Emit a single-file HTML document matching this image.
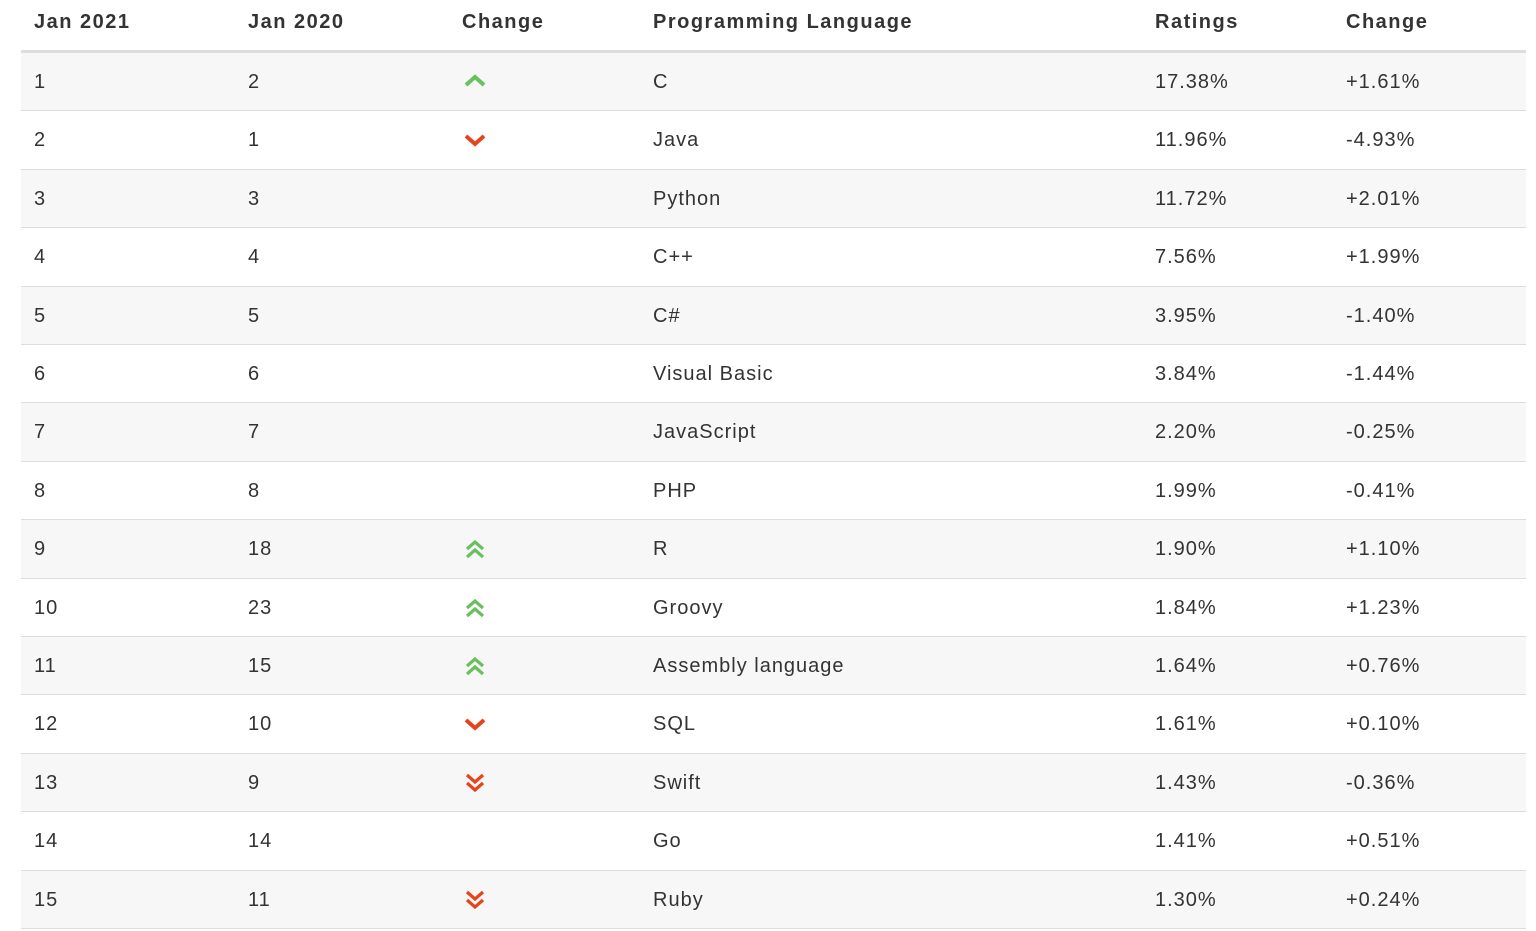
<!DOCTYPE html>
<html><head><meta charset="utf-8"><style>
body{margin:0;width:1536px;height:931px;background:#fff;font-family:"Liberation Sans",Arial,sans-serif;color:#333;position:relative;overflow:hidden}
.h{position:absolute;top:8px;font-weight:bold;font-size:20px;line-height:28px;letter-spacing:1.5px}
.r{position:absolute;left:21px;width:1505px;height:58px;border-bottom:1px solid #ddd;box-sizing:content-box}
.r.o{background:#f7f7f7}
.c{position:absolute;top:15px;font-size:20px;line-height:28px;letter-spacing:1px}
svg{position:absolute;left:422px;top:18px}
</style></head><body>
<div class="h" style="left:34px">Jan 2021</div>
<div class="h" style="left:248px">Jan 2020</div>
<div class="h" style="left:462px">Change</div>
<div class="h" style="left:653px">Programming Language</div>
<div class="h" style="left:1155px">Ratings</div>
<div class="h" style="left:1346px">Change</div>
<div style="position:absolute;left:21px;top:50px;width:1505px;height:3px;background:#ddd"></div>
<div id="t"></div>
<script>
const d=[[1,2,'u','C','17.38%','+1.61%'],[2,1,'d','Java','11.96%','-4.93%'],[3,3,'','Python','11.72%','+2.01%'],[4,4,'','C++','7.56%','+1.99%'],[5,5,'','C#','3.95%','-1.40%'],[6,6,'','Visual Basic','3.84%','-1.44%'],[7,7,'','JavaScript','2.20%','-0.25%'],[8,8,'','PHP','1.99%','-0.41%'],[9,18,'uu','R','1.90%','+1.10%'],[10,23,'uu','Groovy','1.84%','+1.23%'],[11,15,'uu','Assembly language','1.64%','+0.76%'],[12,10,'d','SQL','1.61%','+0.10%'],[13,9,'dd','Swift','1.43%','-0.36%'],[14,14,'','Go','1.41%','+0.51%'],[15,11,'dd','Ruby','1.30%','+0.24%']];
const ic={u:'<polyline points="23,14 32,6 41,14" stroke="#6abf5e" stroke-width="4" fill="none"/>',
d:'<polyline points="23,7 32,15 41,7" stroke="#e5441c" stroke-width="4" fill="none"/>',
uu:'<polyline points="24,11 32,4 40,11" stroke="#6abf5e" stroke-width="3.2" fill="none"/><polyline points="24,19 32,12 40,19" stroke="#6abf5e" stroke-width="3.2" fill="none"/>',
dd:'<polyline points="24,3 32,10 40,3" stroke="#e5441c" stroke-width="3.2" fill="none"/><polyline points="24,11 32,18 40,11" stroke="#e5441c" stroke-width="3.2" fill="none"/>'};
let h='';d.forEach((r,i)=>{const top=Math.round(53+i*58.4);const nxt=Math.round(53+(i+1)*58.4);
h+=`<div class="r ${i%2==0?'o':''}" style="top:${top}px;height:${nxt-top-1}px"><div class="c" style="left:13px">${r[0]}</div><div class="c" style="left:227px">${r[1]}</div>${r[2]?`<svg width="64" height="22">${ic[r[2]]}</svg>`:''}<div class="c" style="left:632px">${r[3]}</div><div class="c" style="left:1134px">${r[4]}</div><div class="c" style="left:1325px">${r[5]}</div></div>`;});
document.getElementById('t').innerHTML=h;
</script>
</body></html>
